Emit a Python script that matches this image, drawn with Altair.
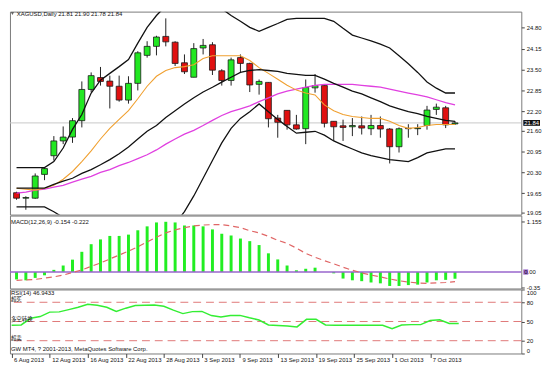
import altair as alt
import pandas as pd

# ---------------- data ----------------
bar_idx = list(range(1, 49))
open_ = [19.67, 19.50, 19.50, 20.24, 20.82, 21.28, 21.40, 21.91, 22.88, 23.25,
         23.14, 22.98, 22.55, 23.07, 23.94, 24.22, 24.53, 24.35, 23.71, 23.26,
         24.17, 24.27, 23.46, 23.16, 23.87, 23.69, 23.04, 23.10, 21.99, 22.23,
         21.78, 21.66, 22.93, 23.00, 21.89, 21.75, 21.72, 21.75, 21.66, 21.76,
         21.65, 21.10, 21.66, 21.66, 21.76, 22.26, 22.31, 21.81]
high = [19.70, 19.56, 20.27, 20.46, 21.43, 21.73, 21.99, 23.13, 23.41, 23.58,
        23.31, 23.31, 23.29, 24.07, 24.38, 24.55, 25.09, 24.38, 23.97, 24.32,
        24.45, 24.35, 23.51, 23.87, 23.97, 23.71, 23.19, 23.10, 22.09, 22.23,
        22.09, 23.19, 23.36, 23.00, 21.89, 21.94, 21.99, 22.04, 22.09, 22.04,
        21.68, 21.70, 21.80, 21.80, 22.37, 22.44, 22.37, 21.90]
low = [19.45, 19.14, 19.48, 20.06, 20.67, 21.18, 21.22, 21.70, 22.80, 23.00,
       22.29, 22.50, 22.44, 22.85, 23.87, 23.94, 24.22, 23.61, 23.36, 23.26,
       23.97, 23.33, 23.00, 23.00, 23.41, 22.80, 22.72, 21.70, 21.38, 21.63,
       21.63, 21.18, 22.78, 21.70, 21.28, 21.28, 21.43, 21.48, 21.46, 21.38,
       20.58, 20.92, 21.38, 21.46, 21.63, 22.09, 21.68, 21.78]
close = [19.50, 19.52, 20.19, 20.42, 21.28, 21.40, 21.91, 22.88, 23.31, 23.13,
         22.98, 22.55, 23.07, 24.02, 24.22, 24.51, 24.36, 23.69, 23.43, 24.15,
         24.25, 23.48, 23.16, 23.80, 23.69, 23.02, 23.13, 21.97, 21.86, 21.78,
         21.65, 22.94, 23.00, 21.83, 21.72, 21.70, 21.76, 21.68, 21.76, 21.65,
         21.10, 21.66, 21.67, 21.68, 22.24, 22.33, 21.78, 21.84]

bb_upper = [20.45, 20.45, 20.45, 20.45, 20.64, 21.06, 21.64, 22.10, 22.77, 23.17,
            23.38, 23.59, 23.81, 24.32, 24.81, 25.18, 25.48, 25.73, 25.85, 25.85,
            25.73, 25.54, 25.39, 25.18, 25.00, 24.81, 24.69, 24.81, 24.93, 25.06,
            25.09, 25.09, 25.09, 25.09, 25.00, 24.78, 24.57, 24.48, 24.39, 24.29,
            24.17, 23.93, 23.68, 23.41, 23.11, 22.92, 22.77, 22.77]
bb_mid = [19.81, 19.81, 19.81, 19.81, 19.93, 20.03, 20.12, 20.27, 20.39, 20.54,
          20.70, 20.88, 21.09, 21.34, 21.58, 21.76, 22.01, 22.22, 22.43, 22.62,
          22.80, 22.95, 23.11, 23.26, 23.41, 23.47, 23.50, 23.47, 23.44, 23.38,
          23.35, 23.32, 23.32, 23.20, 23.07, 22.95, 22.83, 22.74, 22.62, 22.50,
          22.37, 22.28, 22.19, 22.13, 22.04, 21.98, 21.92, 21.89]
bb_lower = [19.23, 19.23, 19.23, 19.23, 19.08, 18.90, 18.65, 18.44, 18.07, 17.92,
            18.01, 18.17, 18.35, 18.35, 18.35, 18.35, 18.53, 18.71, 19.08, 19.57,
            20.12, 20.67, 21.22, 21.67, 21.98, 22.19, 22.43, 22.19, 21.95, 21.73,
            21.52, 21.55, 21.58, 21.46, 21.28, 21.15, 21.03, 20.91, 20.82, 20.76,
            20.70, 20.67, 20.64, 20.76, 20.91, 20.97, 21.03, 21.03]
ma_fast = [19.81, 19.78, 19.75, 19.81, 19.90, 20.09, 20.33, 20.64, 20.97, 21.34,
           21.67, 21.95, 22.22, 22.59, 22.98, 23.29, 23.47, 23.56, 23.59, 23.65,
           23.84, 23.93, 23.93, 23.93, 23.93, 23.78, 23.56, 23.38, 23.20, 23.01,
           22.86, 22.77, 22.71, 22.40, 22.22, 22.10, 22.04, 22.01, 21.98, 21.98,
           21.89, 21.76, 21.67, 21.70, 21.76, 21.79, 21.79, 21.79]
ma_slow = [19.66, 19.69, 19.75, 19.78, 19.84, 19.90, 20.00, 20.09, 20.18, 20.30,
           20.39, 20.51, 20.61, 20.73, 20.85, 21.00, 21.18, 21.34, 21.49, 21.61,
           21.76, 21.92, 22.07, 22.19, 22.28, 22.37, 22.50, 22.62, 22.74, 22.83,
           22.89, 22.95, 23.01, 23.04, 23.04, 23.04, 23.04, 23.01, 22.98, 22.95,
           22.89, 22.83, 22.77, 22.71, 22.65, 22.56, 22.47, 22.40]

macd_hist = [-0.17, -0.19, -0.135, -0.075, 0.05, 0.15, 0.285, 0.465, 0.64, 0.75,
             0.83, 0.83, 0.86, 0.96, 1.05, 1.14, 1.155, 1.14, 1.07, 1.07,
             1.05, 0.98, 0.88, 0.84, 0.77, 0.71, 0.62, 0.43, 0.29, 0.15,
             0.04, 0.075, 0.10, 0.0, -0.03, -0.15, -0.19, -0.21, -0.24, -0.26,
             -0.32, -0.32, -0.30, -0.29, -0.24, -0.19, -0.18, -0.154]
macd_signal = [-0.19, -0.18, -0.17, -0.14, -0.11, -0.07, -0.01, 0.05, 0.13, 0.21,
               0.30, 0.39, 0.48, 0.58, 0.69, 0.80, 0.90, 0.97, 1.02, 1.06,
               1.08, 1.09, 1.09, 1.06, 1.02, 0.95, 0.90, 0.82, 0.73, 0.66,
               0.55, 0.43, 0.34, 0.26, 0.19, 0.11, 0.04, -0.02, -0.07, -0.11,
               -0.16, -0.20, -0.23, -0.25, -0.26, -0.25, -0.24, -0.222]
rsi = [44.0, 44.6, 55.0, 57.7, 64.6, 65.0, 68.5, 72.3, 77.0, 75.4,
       72.3, 65.7, 70.8, 75.0, 75.4, 75.8, 73.8, 67.7, 62.3, 65.4,
       65.7, 59.2, 56.9, 59.5, 59.5, 55.7, 52.3, 44.6, 43.8, 43.1,
       41.5, 53.4, 53.4, 44.6, 44.2, 44.2, 44.2, 44.2, 44.2, 44.2,
       38.9, 44.6, 45.1, 45.1, 51.5, 52.8, 46.9, 46.94]

date_tick_idx = [1, 5, 9, 13, 17, 21, 25, 29, 33, 37, 41, 45]
date_tick_labels = ["6 Aug 2013", "12 Aug 2013", "16 Aug 2013", "22 Aug 2013",
                    "28 Aug 2013", "3 Sep 2013", "9 Sep 2013", "13 Sep 2013",
                    "19 Sep 2013", "25 Sep 2013", "1 Oct 2013", "7 Oct 2013"]
price_ticks = [24.80, 24.15, 23.50, 22.85, 22.20, 21.60, 20.95, 20.30, 19.65, 19.05]
macd_ticks = [1.155, -0.35]
macd_tick_labels = ["1.155", "-0.35"]
rsi_ticks = [100, 80, 50, 20, 0]
rsi_levels = [80, 50, 20]
last_price = 21.84

title_main = "XAGUSD,Daily  21.81 21.90 21.78 21.84"
title_macd = "MACD(12,26,9) -0.154 -0.222"
title_rsi = "RSI(14) 46.9433"
rsi_level_names = ["超买", "多空转换", "超卖"]
copyright_txt = "GW MT4, ? 2001-2013, MetaQuotes Software Corp."

# ---------------- build ----------------
df = pd.DataFrame({
    "idx": bar_idx, "open": open_, "high": high, "low": low, "close": close,
    "bb_upper": bb_upper, "bb_mid": bb_mid, "bb_lower": bb_lower,
    "ma_fast": ma_fast, "ma_slow": ma_slow,
    "macd": macd_hist, "signal": macd_signal, "rsi": rsi,
})
df["dir"] = ["up" if c >= o else "down" for o, c in zip(open_, close)]

FONT = "Liberation Sans"
CJK = "Noto Sans CJK SC"
W = 519
H_MAIN, H_MACD, H_RSI = 206, 74, 65
GREEN = "#22e822"
RED = "#e01010"

xs = alt.Scale(domain=[0.825, 54.58], nice=False, zero=False)
X = alt.X("idx:Q", scale=xs, axis=None)
py = alt.Scale(domain=[18.99, 25.30], nice=False, zero=False)
ms = alt.Scale(domain=[-0.378, 1.298], nice=False, zero=False)
rs = alt.Scale(domain=[0, 100], nice=False, zero=False)


def lbl_expr(vals, labels):
    arr = "[" + ",".join("'" + s + "'" for s in labels) + "]"
    vv = "[" + ",".join(str(v) for v in vals) + "]"
    return arr + "[indexof(" + vv + ", datum.value)]"


axis_common = dict(orient="right", labelFontSize=6, labelFont=FONT, tickSize=3,
                   tickColor="#444", labelColor="#111", domain=False, grid=False,
                   labelPadding=2, title=None)
axis_main = alt.Axis(values=price_ticks, format=".2f", **axis_common)
axis_macd = alt.Axis(values=macd_ticks, labelExpr=lbl_expr(macd_ticks, macd_tick_labels), **axis_common)
axis_rsi = alt.Axis(values=rsi_ticks, labelFlush=True, **axis_common)
axis_x = alt.Axis(values=date_tick_idx, labelExpr=lbl_expr(date_tick_idx, date_tick_labels),
                  labelAlign="left", labelBaseline="top", labelFontSize=6, labelFont=FONT,
                  labelColor="#111", tickSize=4, tickColor="#444", labelPadding=-1,
                  labelOffset=2, domain=False, grid=False, title=None, labelOverlap=False)

base = alt.Chart(df)
pdf = pd.DataFrame({"p": [last_price], "hi": [last_price + 0.09], "lo": [last_price - 0.09],
                    "t": [f"{last_price:.2f}"]})

# main price panel (all y encodings share one scale and one identical axis)
bid = alt.Chart(pdf).mark_rule(color="#c8c8c8", strokeWidth=1).encode(
    y=alt.Y("p:Q", scale=py, axis=axis_main))
wick = base.mark_rule(color="#222222", strokeWidth=1, clip=True).encode(
    x=X, y=alt.Y("low:Q", scale=py, axis=axis_main), y2="high:Q")
body = base.mark_bar(size=6, stroke="#1a1a1a", strokeWidth=0.8, clip=True).encode(
    x=X, y=alt.Y("open:Q", scale=py, axis=axis_main), y2="close:Q",
    color=alt.Color("dir:N", scale=alt.Scale(domain=["up", "down"], range=[GREEN, RED]), legend=None))


def pline(col, color, sw):
    return base.mark_line(color=color, strokeWidth=sw, clip=True).encode(
        x=X, y=alt.Y(f"{col}:Q", scale=py, axis=axis_main))


lines = [pline("ma_slow", "#e040e0", 1.3), pline("ma_fast", "#f0a030", 1.1),
         pline("bb_upper", "#111111", 1.3), pline("bb_mid", "#111111", 1.3),
         pline("bb_lower", "#111111", 1.3)]
tri = alt.Chart(pdf).mark_point(shape="triangle-down", filled=True, size=10, color="#222").encode(
    x=alt.value(2.5), y=alt.value(2))
ttl = alt.Chart(pd.DataFrame({"t": [title_main]})).mark_text(
    align="left", baseline="middle", fontSize=6, font=FONT, color="#111").encode(
    x=alt.value(7), y=alt.value(2.5), text="t:N")
pbox = alt.Chart(pdf).mark_rect(color="#111111").encode(
    x=alt.value(W + 2), x2=alt.value(W + 19),
    y=alt.Y("hi:Q", scale=py, axis=axis_main), y2="lo:Q")
ptxt = alt.Chart(pdf).mark_text(align="left", baseline="middle", fontSize=6, font=FONT,
                                color="white").encode(
    x=alt.value(W + 3), y=alt.Y("p:Q", scale=py, axis=axis_main), text="t:N")
main = alt.layer(bid, wick, body, *lines, tri, ttl, pbox, ptxt).properties(width=W, height=H_MAIN)

# MACD panel
hist = base.mark_bar(size=3, color="#22ee22").encode(
    x=X, y=alt.Y("macd:Q", scale=ms, axis=axis_macd), y2=alt.datum(0))
zdf = pd.DataFrame({"z": [0.0], "hi": [0.06], "lo": [-0.06], "t": ["0.00"]})
zero = alt.Chart(zdf).mark_rule(color="#9966cc", strokeWidth=1.5).encode(
    y=alt.Y("z:Q", scale=ms, axis=axis_macd))
sig = base.mark_line(color="#e06666", strokeDash=[6, 4], strokeWidth=1.2, clip=True).encode(
    x=X, y=alt.Y("signal:Q", scale=ms, axis=axis_macd))
mttl = alt.Chart(pd.DataFrame({"t": [title_macd]})).mark_text(
    align="left", baseline="middle", fontSize=6, font=FONT, color="#111").encode(
    x=alt.value(1), y=alt.value(6.5), text="t:N")
zbox = alt.Chart(zdf).mark_rect(color="#9966cc").encode(
    x=alt.value(W + 2), x2=alt.value(W + 7), y=alt.Y("hi:Q", scale=ms, axis=axis_macd), y2="lo:Q")
ztxt = alt.Chart(zdf).mark_text(align="left", baseline="middle", fontSize=6, font=FONT,
                                color="#111").encode(
    x=alt.value(W + 3), y=alt.Y("z:Q", scale=ms, axis=axis_macd), text="t:N")
macd = alt.layer(hist, zero, sig, mttl, zbox, ztxt).properties(width=W, height=H_MACD)

# RSI panel
lvl = alt.Chart(pd.DataFrame({"lv": rsi_levels})).mark_rule(
    color="#e07878", strokeDash=[8, 5], strokeWidth=1).encode(
    y=alt.Y("lv:Q", scale=rs, axis=axis_rsi))
rline = base.mark_line(color="#33ee33", strokeWidth=1.5).encode(
    x=alt.X("idx:Q", scale=xs, axis=axis_x), y=alt.Y("rsi:Q", scale=rs, axis=axis_rsi))
ltxt = alt.Chart(pd.DataFrame({"t": rsi_level_names, "lv": rsi_levels})).mark_text(
    align="left", baseline="bottom", fontSize=5.5, font=CJK, color="#111").encode(
    x=alt.value(1), y=alt.Y("lv:Q", scale=rs, axis=axis_rsi), text="t:N")
rtt = alt.Chart(pd.DataFrame({"t": [title_rsi]})).mark_text(
    align="left", baseline="middle", fontSize=6, font=FONT, color="#111").encode(
    x=alt.value(1), y=alt.value(4), text="t:N")
rcp = alt.Chart(pd.DataFrame({"t": [copyright_txt]})).mark_text(
    align="left", baseline="middle", fontSize=6, font=FONT, color="#111").encode(
    x=alt.value(1), y=alt.value(60), text="t:N")
rsi_c = alt.layer(lvl, rline, ltxt, rtt, rcp).properties(width=W, height=H_RSI)

chart = alt.vconcat(main, macd, rsi_c, spacing=1, bounds="flush").properties(
    padding=0
).configure_view(stroke="#7a7a7a", strokeWidth=1)

chart.save("out.html", embed_options={"renderer": "svg", "actions": False})
